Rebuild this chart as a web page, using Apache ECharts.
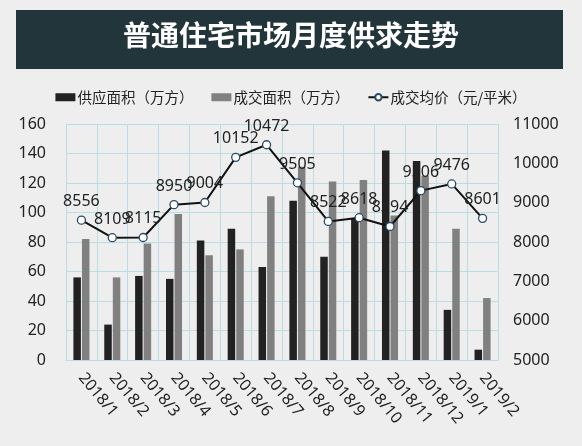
<!DOCTYPE html>
<html>
<head>
<meta charset="utf-8">
<script src="https://cdn.jsdelivr.net/npm/echarts@6/dist/echarts.min.js"></script>
<style>
html,body{margin:0;padding:0;background:#eeeeee;}
#c{width:582px;height:446px;}
</style>
</head>
<body>
<div id="c"></div>
<script>
var categories = ['2018/1','2018/2','2018/3','2018/4','2018/5','2018/6','2018/7','2018/8','2018/9','2018/10','2018/11','2018/12','2019/1','2019/2'];
var supply = [56, 24, 57, 55, 81, 89, 63, 108, 70, 96, 142, 135, 34, 7];
var deal = [82, 56, 79, 99, 71, 75, 111, 131, 121, 122, 98, 125, 89, 42];
var price = [8556, 8109, 8115, 8950, 9004, 10152, 10472, 9505, 8522, 8618, 8394, 9306, 9476, 8601];
var leftTicks = {min: 0, max: 160, interval: 20};
var rightTicks = {min: 5000, max: 11000, interval: 1000};

var FONT = '"Noto Sans", "Noto Sans CJK SC", sans-serif';
var chart = echarts.init(document.getElementById('c'), null, {renderer: 'canvas'});
var gridColor = '#b9dde2';
chart.setOption({
  backgroundColor: '#eeeeee',
  animation: false,
  textStyle: {fontFamily: FONT},
  graphic: [
    {type: 'rect', left: 16, top: 10, shape: {width: 547, height: 59}, style: {fill: '#22353a'}},
    {type: 'text', left: 'center', top: 21, style: {text: '普通住宅市场月度供求走势', fill: '#ffffff', font: 'bold 28px "Noto Sans CJK SC", sans-serif'}}
  ],
  legend: {
    top: 85, left: 'center',
    itemWidth: 20, itemHeight: 8, itemGap: 18,
    textStyle: {fontSize: 14.5, color: '#222', fontFamily: '"Noto Sans CJK SC", sans-serif', padding: [0, 0, 0, -3]},
    data: [
      {name: '供应面积（万方）', icon: 'rect'},
      {name: '成交面积（万方）', icon: 'rect'},
      {name: '成交均价（元/平米）'}
    ]
  },
  grid: {left: 66, right: 84, top: 124, bottom: 86},
  xAxis: {
    type: 'category', data: categories,
    axisLine: {lineStyle: {color: gridColor}},
    axisTick: {show: false},
    splitLine: {show: true, interval: 0, lineStyle: {color: gridColor, width: 1}},
    axisLabel: {rotate: -50, interval: 0, fontSize: 16, color: '#222', margin: 15, fontFamily: FONT}
  },
  yAxis: [
    {type: 'value', min: leftTicks.min, max: leftTicks.max, interval: leftTicks.interval,
     axisLine: {show: false}, axisTick: {show: false},
     splitLine: {lineStyle: {color: gridColor, width: 1}},
     axisLabel: {fontSize: 16, color: '#222', margin: 20, fontFamily: FONT}},
    {type: 'value', min: rightTicks.min, max: rightTicks.max, interval: rightTicks.interval,
     axisLine: {show: false}, axisTick: {show: false}, splitLine: {show: false},
     axisLabel: {fontSize: 16, color: '#222', margin: 15, fontFamily: FONT,
       formatter: function (v) { return String(v); }}}
  ],
  series: [
    {name: '供应面积（万方）', type: 'bar', data: supply, barWidth: 7.5, barGap: '14%',
     itemStyle: {color: '#222222'}},
    {name: '成交面积（万方）', type: 'bar', data: deal, barWidth: 7.5, barGap: '14%',
     itemStyle: {color: '#808080'}},
    {name: '成交均价（元/平米）', type: 'line', yAxisIndex: 1, data: price,
     symbol: 'circle', symbolSize: 8,
     lineStyle: {color: '#111111', width: 2},
     itemStyle: {color: '#ffffff', borderColor: '#2b4a66', borderWidth: 1.3},
     label: {show: true, position: 'top', distance: 6, fontSize: 16, color: '#222', fontFamily: FONT},
     z: 5}
  ]
});
</script>
</body>
</html>
